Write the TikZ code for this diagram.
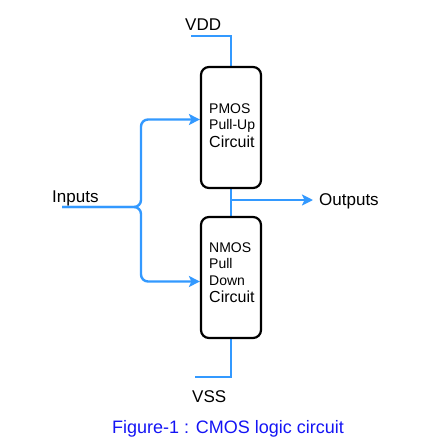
\documentclass[tikz,border=0pt]{standalone}
\usepackage{fontspec}
\setmainfont{Liberation Sans}
\usetikzlibrary{arrows.meta}
\pgfdeclarelayer{wires}
\pgfsetlayers{wires,main}
\definecolor{wire}{RGB}{51,153,255}
\definecolor{capblue}{RGB}{20,20,245}
\tikzset{
  blockbox/.style={draw=black, line width=2.2pt, rounded corners=8pt, minimum width=60pt, minimum height=121pt, inner sep=0pt},
  wireline/.style={draw=wire, line width=2.4pt},
  wirearrow/.style={wireline, -{Stealth[length=11pt,width=11pt,inset=2.5pt]}},
  lbl/.style={inner sep=0pt, anchor=base west, font=\fontsize{17}{20}\selectfont},
  inlbl/.style={inner sep=0pt, anchor=base west, font=\fontsize{14}{16}\selectfont},
  inlblbig/.style={inner sep=0pt, anchor=base west, font=\fontsize{16}{18}\selectfont},
}
\begin{document}
\begin{tikzpicture}[x=1pt,y=-1pt]
\useasboundingbox (0,0) rectangle (428,448);
% boxes
\node[blockbox] (pmos) at (231,127.5) {};
\node[blockbox] (nmos) at (231,277.5) {};
% box texts
\node[inlbl] (p1) at (209,113) {PMOS};
\node[inlbl] (p2) at (209,129) {Pull-Up};
\node[inlblbig] (p3) at (209,147) {Circuit};
\node[inlbl] (n1) at (209,252) {NMOS};
\node[inlbl] (n2) at (209,268) {Pull};
\node[inlbl] (n3) at (209,285) {Down};
\node[inlblbig] (n4) at (209,302) {Circuit};
% labels
\node[lbl] (vdd) at (185,30) {VDD};
\node[lbl] (vss) at (192,402) {VSS};
\node[lbl] (inputs) at (52,202) {Inputs};
\node[lbl] (outputs) at (319,205) {Outputs};
\node[inner sep=0pt, anchor=base west, text=capblue, font=\fontsize{18}{21}\selectfont] (caption) at (112,433) {Figure-1 : CMOS logic circuit};
% coordinates
\coordinate (vddend) at (191,36);
\coordinate (vssend) at (195,377);
\coordinate (inend) at (62,207);
\coordinate (outjunc) at (231,200);
\coordinate (outtip) at (313,200);
\begin{pgfonlayer}{wires}
% supply wires
\draw[wireline] (vddend) -- (231,36) -- (pmos.north);
\draw[wireline] (nmos.south) -- (231,377) -- (vssend);
% output
\draw[wireline] (pmos.south) -- (nmos.north);
\draw[wirearrow] (outjunc) -- (outtip);
% inputs fork
\draw[wirearrow, rounded corners=7pt] (inend) -- (141,207) -- (141,119.5) -- (pmos.west |- 0,119.5);
\draw[wirearrow, rounded corners=7pt] (inend) -- (141,207) -- (141,281.5) -- (nmos.west |- 0,281.5);
\end{pgfonlayer}
\end{tikzpicture}
\end{document}
